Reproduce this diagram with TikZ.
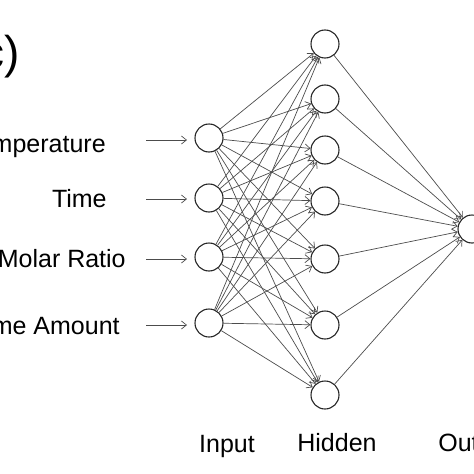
\documentclass[tikz,border=0pt]{standalone}
\usepackage{fontspec}
\setmainfont{Liberation Sans}
\usetikzlibrary{arrows.meta}
\begin{document}
\begin{tikzpicture}[x=1pt,y=-1pt,line width=0.7pt,>={Straight Barb[length=5pt,width=8pt]},
  neuron/.style={circle,draw=black!85,line width=1.1pt,minimum size=28pt,inner sep=0pt},
  link/.style={->,draw=black!70},
  lab/.style={anchor=base east,inner sep=0pt,font=\fontsize{25}{30}\selectfont},
  lay/.style={anchor=base,inner sep=0pt,font=\fontsize{25}{30}\selectfont}]
\useasboundingbox (0,0) rectangle (474,474);
\node[anchor=base east,inner sep=0pt,font=\fontsize{46}{54}\selectfont] (tag) at (20,68) {(c)};
\foreach \y [count=\i] in {138,198,257,323}{\node[neuron] (v\i) at (209,\y){};};
\foreach \y [count=\i] in {44,99,150,201,259,325,395}{\node[neuron] (h\i) at (325,\y){};};
\node[neuron] (o) at (472,229){};
% inputs
\foreach \t/\x/\b/\y [count=\i] in {Temperature/106/152/140,Time/107/207/199,Molar Ratio/126/267/259,Enzyme Amount/120/334/325}{
  \node[lab] (n\i) at (\x,\b){\t};
  \coordinate (a\i) at (146,\y);
  \coordinate (b\i) at (187,\y);
  \draw[link] (a\i) -- (b\i);
};
% weights
\foreach \i in {1,...,4}{\foreach \j in {1,...,7}{\draw[link] (v\i) -- (h\j);};};
\foreach \j in {1,...,7}{\draw[link] (h\j) -- (o);};
% layer names
\node[lay] (li) at (227,452){Input};
\node[lay] (lh) at (337,451){Hidden};
\node[lay,anchor=base west] (lo) at (438,451){Output};
\end{tikzpicture}
\end{document}
